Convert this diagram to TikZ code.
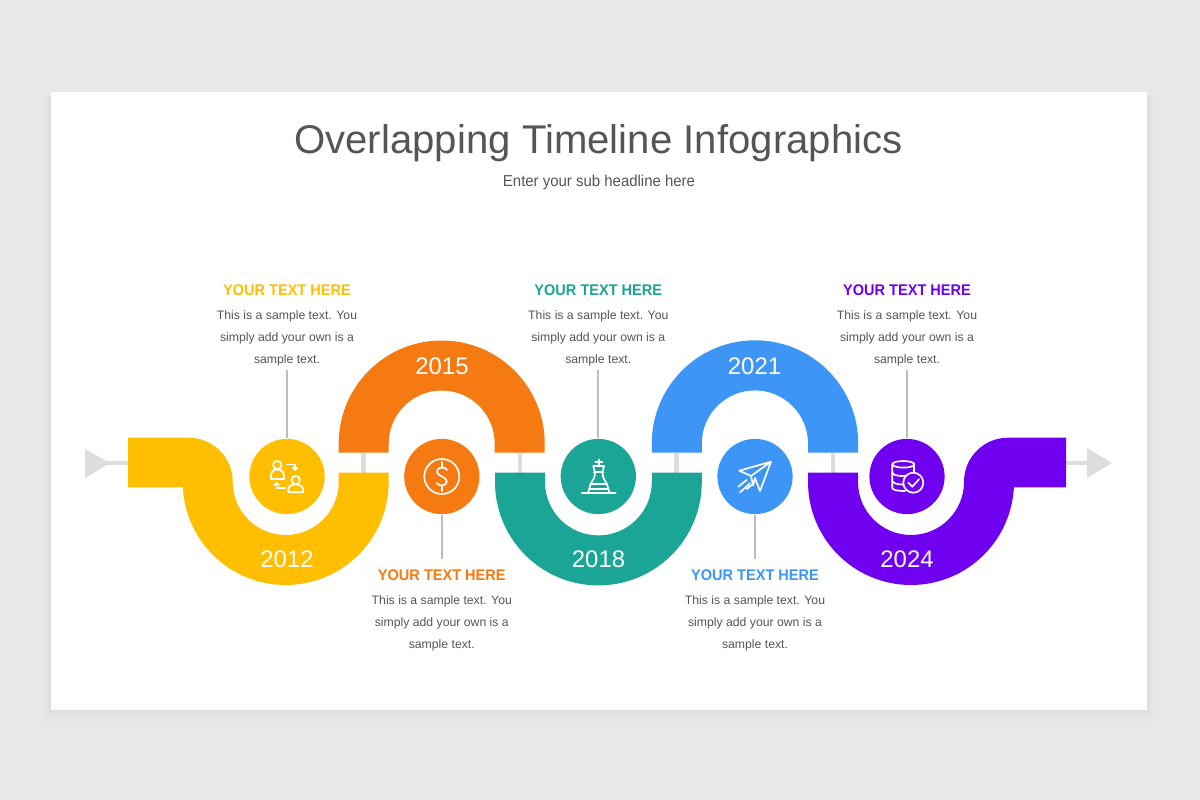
\documentclass[tikz,border=0pt]{standalone}
\usepackage{fontspec}
\setmainfont{Liberation Sans}
\newfontfamily\titlefont[LetterSpace=0.15]{Liberation Sans}
\newfontfamily\subfont[FakeStretch=0.945]{Liberation Sans}
\newfontfamily\headfont[FakeStretch=0.94]{Liberation Sans}
\usetikzlibrary{calc}
\definecolor{slidebg}{HTML}{E9E7E8}
\definecolor{shadea}{HTML}{E7E5E6}
\definecolor{shadeb}{HTML}{E4E2E3}
\definecolor{shadec}{HTML}{E1DFE0}
\definecolor{shaded}{HTML}{DDDBDC}
\definecolor{inkgrey}{HTML}{555555}
\definecolor{leadgrey}{HTML}{BDBDBD}
\definecolor{linkgrey}{HTML}{DDDDDD}
\definecolor{cyellow}{HTML}{FFBF00}
\definecolor{corange}{HTML}{F57A11}
\definecolor{cteal}{HTML}{1BA596}
\definecolor{cblue}{HTML}{3D95F5}
\definecolor{cpurple}{HTML}{7000F0}
\tikzset{
	hub/.style={circle, minimum size=0.752cm, inner sep=0pt, fill=#1},
	year/.style={text=white, font=\fontsize{6.8}{8}\selectfont},
	head/.style={text=#1, inner ysep=0.1cm, inner xsep=0pt, font=\fontsize{4.4}{6}\selectfont\headfont\bfseries},
	body/.style={text=inkgrey, align=center, inner sep=0.04cm, font=\fontsize{3.48}{6.26}\selectfont},
	leader/.style={draw=leadgrey, line width=0.55pt},
	link/.style={draw=linkgrey, line width=1.4pt},
	icon/.style={draw=white, line width=0.48pt, line cap=round, line join=round},
}
\begin{document}
\begin{tikzpicture}[x=0.01cm, y=-0.01cm]
		%%%%% SLIDE %%%%%
		\fill[slidebg] (0, 0) rectangle (1200, 800);
		\fill[shadea] (44, 96) rectangle (1154, 722);
		\fill[shadeb] (46, 96) rectangle (1152, 718);
		\fill[shadec] (48, 96) rectangle (1150, 714);
		\fill[shaded] (50, 96) rectangle (1148, 711);
		\fill[white] (51, 92) rectangle (1147, 710);
		
		\node[text=inkgrey, font=\fontsize{11.4}{14}\selectfont\titlefont] (title) at (598.5, 143) {Overlapping Timeline Infographics};
		\node[text=inkgrey, font=\fontsize{4.5}{6}\selectfont\subfont] (subtitle) at (599, 182) {Enter your sub headline here};
		
		%%%%% ARROWS %%%%%
		\coordinate (tailL) at (100, 463);
		\coordinate (startL) at (128, 463);
		\coordinate (tailR) at (1066, 463);
		\coordinate (endR) at (1095, 463);
		\draw[link] (tailL) -- (startL);
		\draw[link] (tailR) -- (endR);
		\fill[linkgrey] (85, 449) -- (110, 463) -- (85, 478) -- cycle;
		\fill[linkgrey] (1087, 448) -- (1112, 463) -- (1087, 478) -- cycle;
		
		%%%%% LINKS %%%%%
		\coordinate (l1a) at (363.7, 452.7);
		\coordinate (l1b) at (363.7, 472.7);
		\coordinate (l2a) at (520, 452.7);
		\coordinate (l2b) at (520, 472.7);
		\coordinate (l3a) at (676.5, 452.7);
		\coordinate (l3b) at (676.5, 472.7);
		\coordinate (l4a) at (833, 452.7);
		\coordinate (l4b) at (833, 472.7);
		\draw[link] (l1a) -- (l1b);
		\draw[link] (l2a) -- (l2b);
		\draw[link] (l3a) -- (l3b);
		\draw[link] (l4a) -- (l4b);
		
		%%%%% BANDS %%%%%
		\fill[cyellow] (128, 437.7) -- (188.7, 437.7) arc (270:360:44) -- (232.7, 482) arc (180:0:53) -- (338.7, 472.7) -- (388.7, 472.7) -- (388.7, 482) arc (0:180:103) -- (182.7, 487.3) -- (128, 487.3) -- cycle;
		\fill[corange] (338.7, 452.7) -- (338.7, 443.5) arc (180:360:103) -- (544.7, 452.7) -- (494.7, 452.7) -- (494.7, 443.5) arc (360:180:53) -- (388.7, 452.7) -- cycle;
		\fill[cteal] (495, 472.7) -- (495, 482) arc (180:0:103.4) -- (701.8, 472.7) -- (651.8, 472.7) -- (651.8, 482) arc (0:180:53.4) -- (545, 472.7) -- cycle;
		\fill[cblue] (651.8, 452.7) -- (651.8, 443.5) arc (180:360:103.2) -- (858.2, 452.7) -- (808, 452.7) -- (808, 443.5) arc (360:180:53.1) -- (701.8, 452.7) -- cycle;
		\fill[cpurple] (808, 472.7) -- (808, 482) arc (180:0:103) -- (1014, 487.3) -- (1066, 487.3) -- (1066, 437.7) -- (1008, 437.7) arc (270:180:44) -- (964, 482) arc (0:180:53) -- (858, 472.7) -- cycle;
		
		\node[year] (y12) at (287, 559.5) {2012};
		\node[year] (y15) at (442, 366.5) {2015};
		\node[year] (y18) at (598.5, 559.5) {2018};
		\node[year] (y21) at (754.5, 366.5) {2021};
		\node[year] (y24) at (907, 559.5) {2024};
		
		%%%%% HUBS %%%%%
		\node[hub=cyellow] (c12) at (287, 476.5) {};
		\node[hub=corange] (c15) at (441.8, 476.5) {};
		\node[hub=cteal] (c18) at (598.3, 476.5) {};
		\node[hub=cblue] (c21) at (755, 476.5) {};
		\node[hub=cpurple] (c24) at (907, 476.5) {};
		
		%%%%% TEXTS %%%%%
		\node[head=cyellow] (h12) at (287, 290) {YOUR TEXT HERE};
		\node[body] (t12) at (287, 338) {This is a sample text. You\\simply add your own is a\\sample text.};
		\node[head=corange] (h15) at (441.8, 575) {YOUR TEXT HERE};
		\node[body] (t15) at (441.8, 623) {This is a sample text. You\\simply add your own is a\\sample text.};
		\node[head=cteal] (h18) at (598.3, 290) {YOUR TEXT HERE};
		\node[body] (t18) at (598.3, 338) {This is a sample text. You\\simply add your own is a\\sample text.};
		\node[head=cblue] (h21) at (755, 575) {YOUR TEXT HERE};
		\node[body] (t21) at (755, 623) {This is a sample text. You\\simply add your own is a\\sample text.};
		\node[head=cpurple] (h24) at (907, 290) {YOUR TEXT HERE};
		\node[body] (t24) at (907, 338) {This is a sample text. You\\simply add your own is a\\sample text.};
		
		\draw[leader] (c12) -- (t12);
		\draw[leader] (c15) -- (h15);
		\draw[leader] (c18) -- (t18);
		\draw[leader] (c21) -- (h21);
		\draw[leader] (c24) -- (t24);
		
		%%%%% ICONS %%%%%
		% people
		\draw[icon] (277.3, 465) circle (4.2);
		\draw[icon] (271, 479) -- (271, 475.5) .. controls (271, 471.5) and (274, 469.5) .. (277.3, 469.5) .. controls (280.5, 469.5) and (284, 471.5) .. (284, 475.5) -- (284, 479) -- cycle;
		\draw[icon] (295.7, 480) circle (4.2);
		\draw[icon] (288.5, 492.3) -- (288.5, 489) .. controls (288.5, 486) and (292, 484.5) .. (295.7, 484.5) .. controls (299, 484.5) and (303, 486) .. (303, 489) -- (303, 492.3) -- cycle;
		\draw[icon] (287, 464.5) -- (295, 464.5) -- (295, 470);
		\draw[icon] (292.5, 467.5) -- (295, 470) -- (297.5, 467.5);
		\draw[icon] (285, 488.3) -- (276.5, 488.3) -- (276.5, 483);
		\draw[icon] (274, 485.5) -- (276.5, 483) -- (279, 485.5);
		% dollar
		\draw[icon] (441.8, 476.5) circle (17.5);
		\draw[icon] (447, 470) .. controls (445.5, 466.5) and (437, 466.5) .. (437, 471.5) .. controls (437, 476.5) and (446.8, 476.5) .. (446.8, 481.5) .. controls (446.8, 486.5) and (438, 486.5) .. (436.7, 483);
		\draw[icon] (441.8, 462) -- (441.8, 467);
		\draw[icon] (441.8, 486) -- (441.8, 491);
		% king
		\draw[icon] (581.7, 493.3) -- (615.7, 493.3);
		\draw[icon] (598.7, 459.3) -- (598.7, 466);
		\draw[icon] (595.3, 462.3) -- (602.3, 462.3);
		\draw[icon] (593.3, 466) -- (604, 466) -- (602.5, 472) -- (594.8, 472) -- cycle;
		\draw[icon] (593.8, 472.5) -- (603.5, 472.5);
		\draw[icon] (595, 473) .. controls (595, 478) and (592, 481) .. (590.5, 484.3) -- (588, 493);
		\draw[icon] (602.5, 473) .. controls (602.5, 478) and (605.5, 481) .. (607, 484.3) -- (609.5, 493);
		\draw[icon] (590.5, 484.3) -- (607, 484.3);
		\draw[icon] (589.3, 489) -- (608.2, 489);
		% plane
		\draw[icon] (771, 461.7) -- (739.3, 470.7) -- (751, 476) -- (771, 461.7) -- (760, 491) -- (755, 478);
		\draw[icon] (751, 476) -- (753, 485.5) -- (755, 478);
		\draw[icon] (738.3, 486.7) -- (746.7, 480);
		\draw[icon] (740, 492.3) -- (750, 483.3);
		\draw[icon] (746.7, 489) -- (751.7, 485);
		% database
		\draw[icon] (903.3, 464.3) ellipse (11 and 3.3);
		\draw[icon] (892.3, 464.3) -- (892.3, 488) .. controls (892.3, 490) and (898, 491) .. (905, 491);
		\draw[icon] (914.3, 464.3) -- (914.3, 473);
		\draw[icon] (892.3, 472.5) .. controls (892.3, 476.5) and (908, 477.5) .. (914.3, 473);
		\draw[icon] (892.3, 481) .. controls (893, 483.5) and (898, 484.5) .. (903, 484.5);
		\draw[icon, fill=cpurple] (913.3, 482.7) circle (10);
		\draw[icon] (908.3, 482.7) -- (912.3, 486.7) -- (919, 479.3);
	\end{tikzpicture}
\end{document}
